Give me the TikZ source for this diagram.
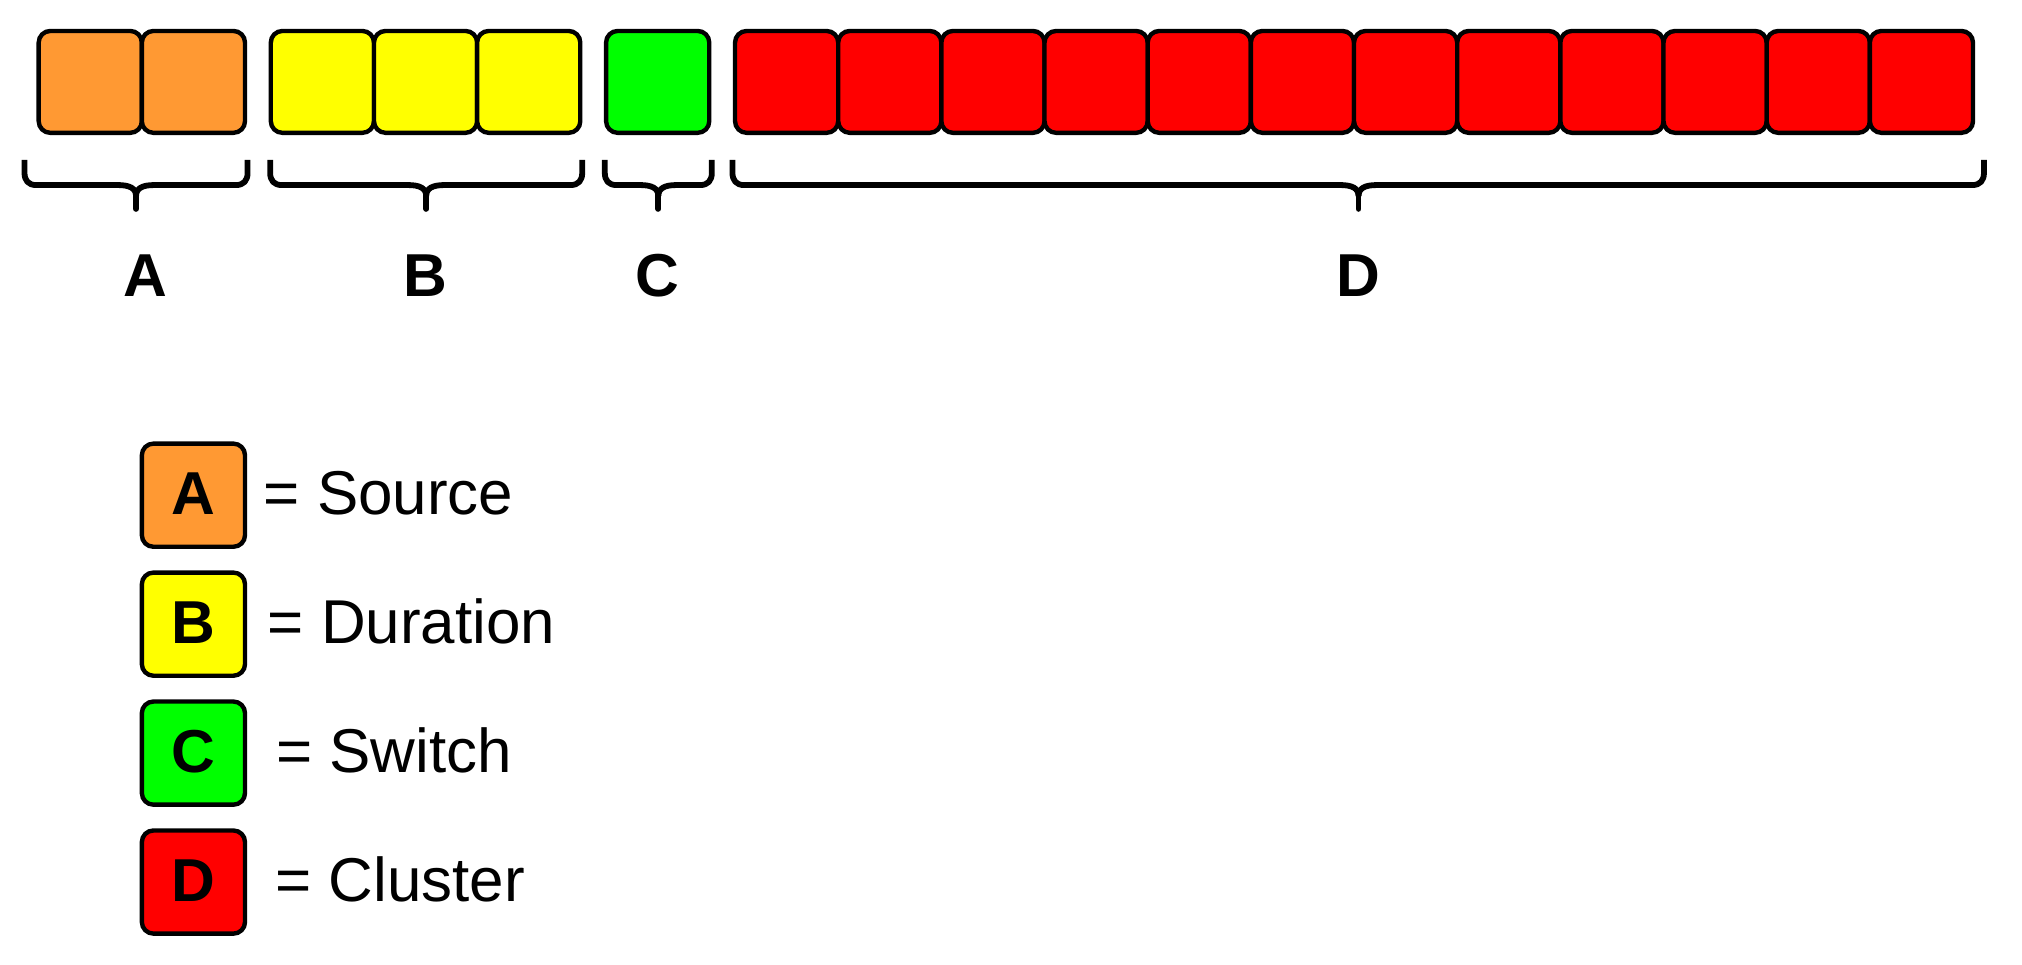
\documentclass[tikz,border=0pt]{standalone}
\usepackage{fontspec}
\setmainfont{Liberation Sans}
\definecolor{cA}{RGB}{255,153,51}
\definecolor{cB}{RGB}{255,255,0}
\definecolor{cC}{RGB}{0,255,0}
\definecolor{cD}{RGB}{255,0,0}
\tikzset{
  cell/.style={draw=black, line width=3.4pt, rounded corners=9pt, minimum width=80pt, minimum height=79pt, inner sep=0pt},
  lcell/.style={cell, minimum height=80pt},
  brace/.style={draw=black, line width=4.5pt, line join=round},
  biglbl/.style={inner sep=0pt, anchor=base, font=\fontsize{47pt}{56pt}\selectfont\bfseries},
  legtxt/.style={inner sep=0pt, anchor=base west, font=\fontsize{48pt}{56pt}\selectfont}
}
\newcommand\mybrace[3]{%
  \draw[brace] (#1,124) -- (#1,134) .. controls (#1,140) and (#1+3,143.5) .. (#1+9,143.5)
     -- (#3-14,143.5) .. controls (#3-5,143.5) and (#3,146) .. (#3,152);
  \draw[brace] (#2,124) -- (#2,134) .. controls (#2,140) and (#2-3,143.5) .. (#2-9,143.5)
     -- (#3+14,143.5) .. controls (#3+5,143.5) and (#3,146) .. (#3,152);
  \draw[brace, line cap=round] (#3,150) -- (#3,162);
}
\begin{document}
\begin{tikzpicture}[x=1pt,y=-1pt]
\useasboundingbox (0,0) rectangle (1568,748);
% top row
\node[cell, fill=cA] (a1) at (70,63.5) {};
\node[cell, fill=cA] (a2) at (150,63.5) {};
\node[cell, fill=cB] (b1) at (250,63.5) {};
\node[cell, fill=cB] (b2) at (330,63.5) {};
\node[cell, fill=cB] (b3) at (410,63.5) {};
\node[cell, fill=cC] (c1) at (510,63.5) {};
\foreach \k in {0,...,11} {
  \node[cell, fill=cD] (d\k) at (610+80*\k,63.5) {};
}
% braces
\mybrace{19}{192}{105.5}
\mybrace{209.5}{451.5}{330.5}
\mybrace{469}{552}{510.5}
\mybrace{568}{1538.5}{1053.5}
% group labels
\node[biglbl] (la) at (113,230) {A};
\node[biglbl] (lb) at (330,230) {B};
\node[biglbl] (lc) at (510,230) {C};
\node[biglbl] (ld) at (1053,230) {D};
% legend
\node[lcell, fill=cA] (ka) at (150,384) {};
\node[lcell, fill=cB] (kb) at (150,484) {};
\node[lcell, fill=cC] (kc) at (150,584) {};
\node[lcell, fill=cD] (kd) at (150,684) {};
\node[biglbl] (kal) at (150,399) {A};
\node[biglbl] (kbl) at (150,499) {B};
\node[biglbl] (kcl) at (150,599) {C};
\node[biglbl] (kdl) at (150,699) {D};
\node[legtxt] (ta) at (204.5,399) {= Source};
\node[legtxt] (tb) at (207.5,499) {= Duration};
\node[legtxt] (tc) at (214,599) {= Switch};
\node[legtxt] (td) at (213.5,699) {= Cluster};
\end{tikzpicture}
\end{document}
